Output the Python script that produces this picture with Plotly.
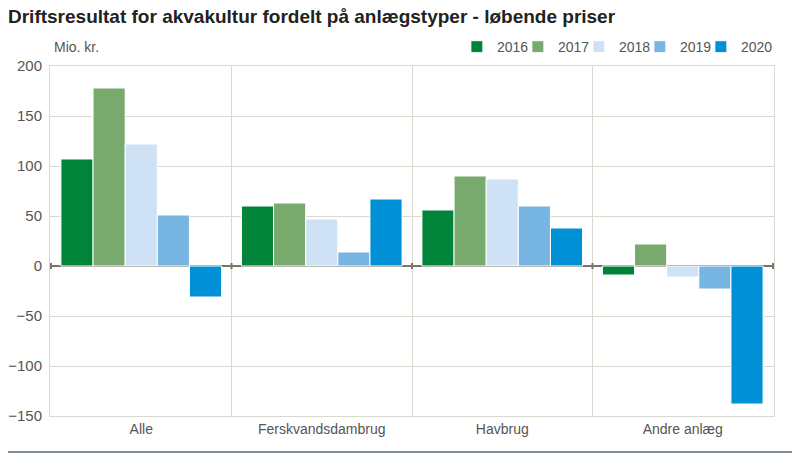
import plotly.graph_objects as go

# Anlægstyper og år
categories = ["Alle", "Ferskvandsdambrug", "Havbrug", "Andre anlæg"]
years = ["2016", "2017", "2018", "2019", "2020"]

# Driftsresultat, mio. kr.
values_2016 = [107, 60, 56, -9]
values_2017 = [178, 63, 90, 22]
values_2018 = [122, 47, 87, -11]
values_2019 = [51, 14, 60, -23]
values_2020 = [-31, 67, 38, -138]

y_ticks = [-150, -100, -50, 0, 50, 100, 150, 200]

colors = ["#00843a", "#78aa6e", "#cfe1f5", "#77b5e3", "#0090d6"]
series = [values_2016, values_2017, values_2018, values_2019, values_2020]

fig = go.Figure()

for year, vals, color in zip(years, series, colors):
    fig.add_trace(go.Bar(
        x=categories,
        y=vals,
        name=year,
        marker=dict(color=color, line=dict(color="white", width=1)),
    ))

# tom, usynlig post så legendens sidste tekst ikke klippes
fig.add_trace(go.Scatter(
    x=[None], y=[None], name=" ", mode="markers",
    marker=dict(color="rgba(0,0,0,0)", size=1),
    hoverinfo="skip",
))

# små streger på nullinjen ved kategorigrænserne
for i in range(len(categories) + 1):
    fig.add_shape(type="line", xref="x", yref="y",
                  x0=i - 0.5, x1=i - 0.5, y0=-3, y1=3,
                  line=dict(color="#7a7666", width=2))

# grå linje i bunden af figuren
fig.add_shape(type="line", xref="paper", yref="paper",
              x0=-0.08, x1=1.04, y0=-0.103, y1=-0.103,
              line=dict(color="#7f8e9c", width=2))

# siden har 8px body-margen, derfor er margenerne forskudt
fig.update_layout(
    width=800,
    height=455,
    paper_bgcolor="white",
    plot_bgcolor="white",
    margin=dict(l=42, r=34, t=58, b=47, autoexpand=False),
    barmode="group",
    bargap=0.11,
    bargroupgap=0,
    font=dict(family="Liberation Sans, Arial", size=14, color="#555555"),
    title=dict(
        text="<b>Driftsresultat for akvakultur fordelt på anlægstyper - løbende priser</b>",
        x=0, xanchor="left", y=0.982, yanchor="middle",
        font=dict(family="Liberation Sans, Arial", size=19, color="#222222"),
    ),
    legend=dict(
        orientation="h",
        x=0.562, xanchor="left",
        y=1.054, yanchor="middle",
        font=dict(size=14, color="#555555"),
        itemwidth=30,
        entrywidth=16,
        entrywidthmode="pixels",
        traceorder="normal",
        bgcolor="rgba(0,0,0,0)",
    ),
    annotations=[dict(
        text="Mio. kr.", xref="paper", yref="paper",
        x=0.003, y=1.054, xanchor="left", yanchor="middle",
        showarrow=False, font=dict(size=14, color="#555555"),
    )],
    xaxis=dict(
        type="category",
        tickson="boundaries",
        showgrid=True,
        gridcolor="#d9d9d0",
        gridwidth=1,
        ticks="",
        showline=True,
        linecolor="#d9d9d0",
        mirror=True,
        automargin=False,
    ),
    yaxis=dict(
        range=[-150, 200],
        tickvals=y_ticks,
        showgrid=True,
        gridcolor="#d9d9d0",
        gridwidth=1,
        zeroline=True,
        zerolinecolor="#7a7666",
        zerolinewidth=2,
        showline=True,
        linecolor="#d9d9d0",
        mirror=True,
        ticks="",
        ticklabelstandoff=4,
        automargin=False,
        tickfont=dict(size=15),
    ),
)

fig.write_html("out.html")
